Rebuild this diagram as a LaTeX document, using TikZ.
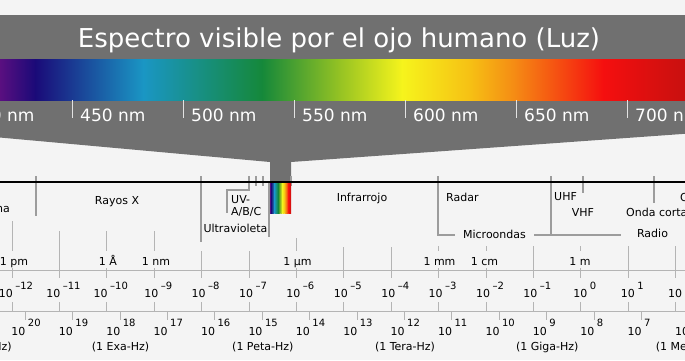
\documentclass[tikz,border=0pt]{standalone}
\usepackage{fontspec}
\setmainfont{DejaVu Sans}

\definecolor{bgcol}{HTML}{F4F4F4}
\definecolor{bandcol}{HTML}{707070}
\definecolor{linecol}{HTML}{9C9C9C}
\definecolor{rulecol}{HTML}{B4B4B4}
\definecolor{sp1}{HTML}{5A0F80}
\definecolor{sp2}{HTML}{1A0A78}
\definecolor{sp3}{HTML}{1A96C4}
\definecolor{sp4}{HTML}{15883A}
\definecolor{sp5}{HTML}{96C323}
\definecolor{sp6}{HTML}{F6F41C}
\definecolor{sp7}{HTML}{F6C014}
\definecolor{sp8}{HTML}{F58A14}
\definecolor{sp9}{HTML}{F50F0F}
\definecolor{sp10}{HTML}{C8100F}

% colour strip, 685 wide and 1 high
\newcommand{\rainbow}{%
  \foreach \xa/\ca/\xb/\cb in {0/sp1/35/sp2, 35/sp2/143/sp3, 143/sp3/262/sp4, 262/sp4/340/sp5,
      340/sp5/402/sp6, 402/sp6/470/sp7, 470/sp7/515/sp8, 515/sp8/603/sp9, 603/sp9/685/sp10}
    \shade[left color=\ca, right color=\cb] (\xa,0) rectangle (\xb+0.5,1);%
}
\newcommand{\pow}[1]{10\hspace{2.5pt}\raisebox{8.3pt}{\fontsize{10}{12}\selectfont #1}}

\begin{document}
\begin{tikzpicture}[x=1pt,y=-1pt,
  lbl/.style={font=\fontsize{11}{13}\selectfont, inner sep=0pt, anchor=base},
  nmlbl/.style={font=\fontsize{17}{20}\selectfont, text=white, inner sep=0pt, anchor=base west},
  bnd/.style={draw=linecol, line width=1.1pt},
  scl/.style={draw=rulecol, line width=1pt},
  cut/.style={fill=bgcol, inner xsep=1.5pt, inner ysep=0pt, text height=14pt, text depth=2.5pt}]

\path[fill=bgcol, use as bounding box] (0,0) rectangle (685,360);
\clip (0,0) rectangle (685,360);

% visible band and funnel
\fill[bandcol] (-83,15) -- (738,15) -- (738,130) -- (291,162) -- (291,182)
  -- (270,182) -- (270,162) -- (-83,130) -- cycle;
\node[font=\fontsize{26}{30}\selectfont, text=white, anchor=base, inner sep=0pt] (title) at (339,47)
  {Espectro visible por el ojo humano (Luz)};
\begin{scope}[shift={(0,59)}, yscale=41] \rainbow \end{scope}

\foreach \w in {400,450,...,700}{
  \pgfmathsetmacro\xw{72+(\w-450)*2.22}
  \draw[draw=white!80!bandcol, line width=0.9pt] (\xw,100) -- (\xw,118);
  \node[nmlbl] (nm\w) at (\xw+8,121) {\w{} nm};
}

% region borders
\draw[bnd] (36,176) -- (36,216);
\draw[bnd] (201,176) -- (201,242);
\draw[bnd] (249,176) -- (249,190) -- (227,190) -- (227,213);
\draw[bnd] (256,176) -- (256,186);
\draw[bnd] (263,176) -- (263,186);
\draw[bnd] (269,182) -- (269,237);
\draw[bnd] (291,176) -- (291,186);
\draw[bnd] (438,176) -- (438,235) -- (621,235);
\draw[bnd] (551,176) -- (551,235);
\draw[bnd] (583,176) -- (583,193);
\draw[bnd] (654,176) -- (654,203);

\begin{scope}[shift={(270,182)}, xscale=0.03066, yscale=31] \rainbow \end{scope}

\coordinate (axl) at (0,182);
\coordinate (axr) at (685,182);
\draw[black, line width=1.3pt] (axl) -- (axr);

\node[lbl, anchor=base east] (gamma) at (10,212.5) {Rayos gamma};
\node[lbl] (xray) at (117,204) {Rayos X};
\node[lbl, anchor=base west] (uva) at (231,203) {UV-};
\node[lbl, anchor=base west] (uvb) at (231,215) {A/B/C};
\node[lbl] (uv) at (235.5,232) {Ultravioleta};
\node[lbl] (ir) at (362,201) {Infrarrojo};
\node[lbl, anchor=base west] (radar) at (446,201) {Radar};
\node[lbl, fill=bgcol, inner xsep=8pt] (micro) at (494.5,238.5) {Microondas};
\node[lbl, anchor=base west] (uhf) at (554,200.5) {UHF};
\node[lbl] (vhf) at (583,216.5) {VHF};
\node[lbl, anchor=base west] (sw) at (626,216.5) {Onda corta};
\node[lbl] (radio) at (652.5,237.5) {Radio};
\node[lbl, anchor=base west] (mw) at (680,201) {Onda media};

% wavelength scale
\foreach \k/\t in {-13/246,-12/221,-11/231,-10/231,-9/231,-8/251,-7/251,-6/238,-5/247,-4/247,
    -3/246,-2/246,-1/246,0/246,1/246,2/246}{
  \pgfmathsetmacro\xk{12+(\k+12)*47.4}
  \pgfmathtruncatemacro\ak{abs(\k)}
  \draw[scl] (\xk,\t) -- (\xk,278);
  \draw[scl] (\xk,302) -- (\xk,311);
  \node[lbl] (w\k) at (\xk+4,297.5) {\pow{\ifnum\k<0 –\fi\ak}};
}
\foreach \x/\u/\nm in {14/1 pm/upm, 108/1 Å/uA, 156/1 nm/unm, 297.5/1 µm/uum,
    439.5/1 mm/umm, 484.5/1 cm/ucm, 580/1 m/um}
  \node[lbl, cut] (\nm) at (\x,265) {\u};
\draw[scl] (0,270) -- (685,270);
\draw[scl] (0,311) -- (685,311);

% frequency scale
\foreach \n in {21,20,...,6}{
  \pgfmathsetmacro\xn{25.3+(20-\n)*47.4}
  \draw[scl] (\xn,311) -- (\xn,320);
  \node[lbl, anchor=base west] (f\n) at (\xn-14,335) {\pow{\n}};
}
\foreach \n/\pre in {21/Zetta,18/Exa,15/Peta,12/Tera,9/Giga,6/Mega}{
  \pgfmathsetmacro\xn{25.3+(20-\n)*47.4}
  \node[lbl] (hz\n) at (\xn+0.5,350) {(1 \pre-Hz)};
}
\end{tikzpicture}
\end{document}
